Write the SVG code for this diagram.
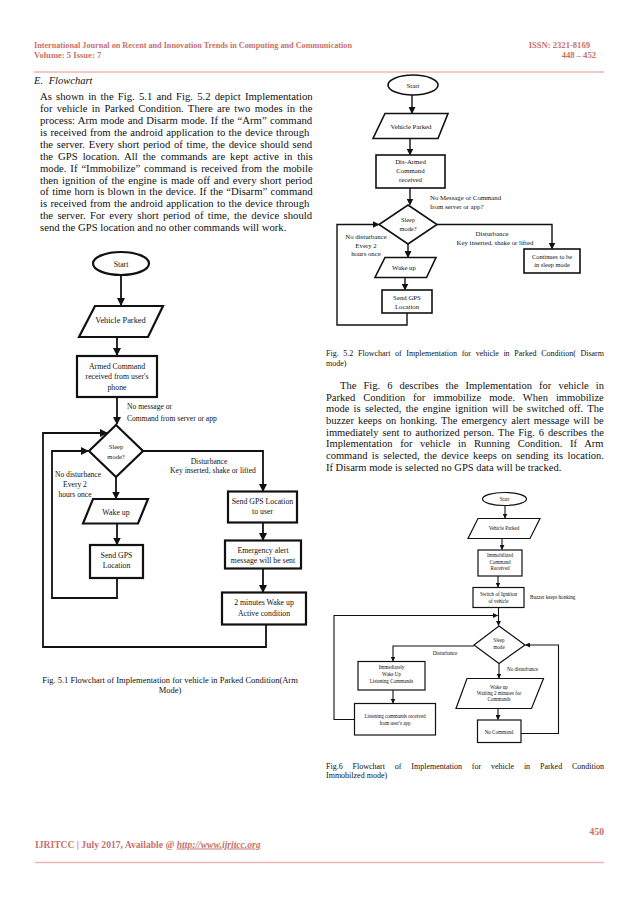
<svg xmlns="http://www.w3.org/2000/svg" width="638" height="902" viewBox="0 0 638 902">
<style>
text{font-family:"Liberation Serif","Times New Roman",serif;fill:#111}
.hd{font-weight:bold;font-size:8.6px;fill:#c8716c}
.ft{font-weight:bold;font-size:9.6px;fill:#c8716c}
.rule{stroke:#e9b7b3;stroke-width:1.4}
.para{font-size:10.7px}
.parar{font-size:10.5px}
.cap{font-size:8px}
.b1{fill:#fff;stroke:#111;stroke-width:2.2}
.b2{fill:#fff;stroke:#111;stroke-width:1.6}
.b3{fill:#fff;stroke:#111;stroke-width:1.2}
.c1{fill:none;stroke:#111;stroke-width:1.8}
.c2{fill:none;stroke:#111;stroke-width:1.4}
.c3{fill:none;stroke:#111;stroke-width:1.1}
.t1{font-size:7.8px;text-anchor:middle}
.t1s{font-size:6.5px;text-anchor:middle}
.l1{font-size:7.6px}
.t2{font-size:6.8px;text-anchor:middle}
.t3{font-size:5.1px;text-anchor:middle}
.l3{font-size:5.1px}
</style>
<defs>
<marker id="a1" markerUnits="userSpaceOnUse" markerWidth="8" markerHeight="8" refX="7" refY="4" orient="auto"><path d="M0,0 L8,4 L0,8 z" fill="#111"/></marker>
<marker id="a2" markerUnits="userSpaceOnUse" markerWidth="7" markerHeight="7" refX="6" refY="3.5" orient="auto"><path d="M0,0 L7,3.5 L0,7 z" fill="#111"/></marker>
<marker id="a3" markerUnits="userSpaceOnUse" markerWidth="5" markerHeight="5" refX="4.5" refY="2.5" orient="auto"><path d="M0,0 L5,2.5 L0,5 z" fill="#111"/></marker>
</defs>

<!-- page header -->
<g id="header">
<text class="hd" x="34" y="48" textLength="318" lengthAdjust="spacingAndGlyphs">International Journal on Recent and Innovation Trends in Computing and Communication</text>
<text class="hd" x="34" y="57.5">Volume: 5 Issue: 7</text>
<text class="hd" x="590" y="48" text-anchor="end">ISSN: 2321-8169</text>
<text class="hd" x="596" y="57.5" text-anchor="end">448 – 452</text>
<line class="rule" x1="34" y1="72" x2="604" y2="72"/>
</g>

<!-- left column text -->
<g id="left-text">
<text x="34" y="84" style="font-size:10.5px;font-style:italic;word-spacing:3px">E. Flowchart</text>
<text class="para" x="40" y="100.4" word-spacing="1.5">As shown in the Fig. 5.1 and Fig. 5.2 depict Implementation</text>
<text class="para" x="40" y="112.3" word-spacing="1.59">for vehicle in Parked Condition. There are two modes in the</text>
<text class="para" x="40" y="124.1" word-spacing="0.62">process: Arm mode and Disarm mode. If the “Arm” command</text>
<text class="para" x="40" y="136" word-spacing="0.61">is received from the android application to the device through</text>
<text class="para" x="40" y="147.9" word-spacing="1.03">the server. Every short period of time, the device should send</text>
<text class="para" x="40" y="159.8" word-spacing="2.31">the GPS location. All the commands are kept active in this</text>
<text class="para" x="40" y="171.6" word-spacing="1.25">mode.  If “Immobilize” command is received from the mobile</text>
<text class="para" x="40" y="183.5" word-spacing="0.96">then ignition of the engine is made off and every short period</text>
<text class="para" x="40" y="195.4" word-spacing="0.61">of time horn is blown in the device. If the “Disarm” command</text>
<text class="para" x="40" y="207.2" word-spacing="0.61">is received from the android application to the device through</text>
<text class="para" x="40" y="219.1" word-spacing="1.68">the server. For every short period of time, the device should</text>
<text class="para" x="40" y="231">send the GPS location and no other commands will work.</text>
</g>

<!-- ================= Fig 5.1 ================= -->
<g id="f51-connectors">
<line class="c1" x1="121" y1="275" x2="121" y2="305" marker-end="url(#a1)"/>
<line class="c1" x1="117" y1="337" x2="117" y2="355" marker-end="url(#a1)"/>
<line class="c1" x1="117" y1="397" x2="117" y2="424" marker-end="url(#a1)"/>
<polyline class="c1" points="266,624.5 266,647 43,647 43,433 107,433" marker-end="url(#a1)"/>
<polyline class="c1" points="117,578 117,598 52,598 52,451 88,451" marker-end="url(#a1)"/>
<polyline class="c1" points="143,451 263,451 263,491" marker-end="url(#a1)"/>
<line class="c1" x1="116" y1="477" x2="116" y2="498.5" marker-end="url(#a1)"/>
<line class="c1" x1="117" y1="523.5" x2="117" y2="544.5" marker-end="url(#a1)"/>
<line class="c1" x1="263" y1="522.5" x2="263" y2="540" marker-end="url(#a1)"/>
<line class="c1" x1="263" y1="568.5" x2="263" y2="592" marker-end="url(#a1)"/>
<text class="l1" x="127" y="408.5">No message or</text>
<text class="l1" x="127" y="420.5">Command from server or app</text>
<text class="l1" x="209" y="463.5" text-anchor="middle">Disturbance</text>
<text class="l1" x="213" y="473" text-anchor="middle">Key inserted, shake or lifted</text>
<text class="l1" x="78" y="477" text-anchor="middle">No disturbance</text>
<text class="l1" x="75" y="486.5" text-anchor="middle">Every 2</text>
<text class="l1" x="75" y="496.5" text-anchor="middle">hours once</text>
</g>
<g id="f51-start">
<ellipse class="b1" cx="121" cy="263.5" rx="28" ry="11.5"/>
<text class="t1" x="121" y="266.5">Start</text>
</g>
<g id="f51-parked">
<polygon class="b1" points="95,306 163,306 148,337 79,337"/>
<text class="t1" x="120.5" y="322.5" style="font-size:8.4px">Vehicle Parked</text>
</g>
<g id="f51-armed">
<rect class="b1" x="77" y="356" width="80" height="41"/>
<text class="t1" x="117" y="368.5">Armed Command</text>
<text class="t1" x="117" y="379">received from user's</text>
<text class="t1" x="117" y="389.5">phone</text>
</g>
<g id="f51-sleep">
<polygon class="b1" points="116,425 143,451 116,477 89,451"/>
<text class="t1s" x="116" y="449">Sleep</text>
<text class="t1s" x="116" y="459">mode?</text>
</g>
<g id="f51-wake">
<polygon class="b1" points="93,499 148,499 138,523.5 83,523.5"/>
<text class="t1" x="116" y="515">Wake up</text>
</g>
<g id="f51-gps">
<rect class="b1" x="90" y="545" width="53" height="33"/>
<text class="t1" x="116.5" y="557.5">Send GPS</text>
<text class="t1" x="116.5" y="567.5">Location</text>
</g>
<g id="f51-gpsuser">
<rect class="b1" x="228" y="491.5" width="69" height="31"/>
<text class="t1" x="262.5" y="504">Send GPS Location</text>
<text class="t1" x="262.5" y="514">to user</text>
</g>
<g id="f51-alert">
<rect class="b1" x="225" y="540.5" width="76" height="28"/>
<text class="t1" x="263" y="552.5">Emergency alert</text>
<text class="t1" x="263" y="563">message will be sent</text>
</g>
<g id="f51-active">
<rect class="b1" x="222" y="592.5" width="84" height="32"/>
<text class="t1" x="264" y="605">2 minutes  Wake up</text>
<text class="t1" x="264" y="615.5">Active condition</text>
</g>
<g id="f51-caption">
<text class="cap" x="170" y="683" text-anchor="middle" style="font-size:8.5px">Fig. 5.1 Flowchart of Implementation for vehicle in Parked Condition(Arm</text>
<text class="cap" x="170" y="693" text-anchor="middle" style="font-size:8.5px">Mode)</text>
</g>

<!-- ================= Fig 5.2 ================= -->
<g id="f52-connectors">
<line class="c2" x1="412" y1="95" x2="412" y2="113" marker-end="url(#a2)"/>
<line class="c2" x1="410" y1="138.5" x2="410" y2="154.5" marker-end="url(#a2)"/>
<line class="c2" x1="410" y1="188" x2="410" y2="204.5" marker-end="url(#a2)"/>
<polyline class="c2" points="407,313 407,325 337,325 337,224.5 378.5,224.5" marker-end="url(#a2)"/>
<polyline class="c2" points="437,224.5 552,224.5 552,248.5" marker-end="url(#a2)"/>
<line class="c2" x1="408" y1="244" x2="408" y2="257" marker-end="url(#a2)"/>
<line class="c2" x1="405" y1="277.5" x2="405" y2="289.5" marker-end="url(#a2)"/>
<text class="t2" x="430" y="199.5" style="text-anchor:start">No Message or Command</text>
<text class="t2" x="430" y="208.5" style="text-anchor:start">from server or app?</text>
<text class="t2" x="366" y="239">No disturbance</text>
<text class="t2" x="366" y="247.5">Every 2</text>
<text class="t2" x="366" y="256">hours once</text>
<text class="t2" x="492" y="235.5">Disturbance</text>
<text class="t2" x="495" y="244.5">Key inserted, shake or lifted</text>
</g>
<g id="f52-start">
<ellipse class="b2" cx="413" cy="85" rx="25" ry="10"/>
<text class="t2" x="413" y="87.5">Start</text>
</g>
<g id="f52-parked">
<polygon class="b2" points="385,113.5 448,113.5 438,138.5 373,138.5"/>
<text class="t2" x="411" y="128.5">Vehicle Parked</text>
</g>
<g id="f52-disarmed">
<rect class="b2" x="376" y="155" width="69" height="33"/>
<text class="t2" x="410.5" y="163.5">Dis-Armed</text>
<text class="t2" x="410.5" y="172.5">Command</text>
<text class="t2" x="410.5" y="181.5">received</text>
</g>
<g id="f52-sleep">
<polygon class="b2" points="408,205 437,224.5 408,244 379,224.5"/>
<text class="t2" x="408" y="222" style="font-size:6.4px">Sleep</text>
<text class="t2" x="408" y="231" style="font-size:6.4px">mode?</text>
</g>
<g id="f52-continues">
<rect class="b2" x="524" y="249" width="56" height="24"/>
<text class="t2" x="552" y="258.5" style="font-size:6.4px">Continues to be</text>
<text class="t2" x="552" y="266.5" style="font-size:6.4px">in sleep mode</text>
</g>
<g id="f52-wake">
<polygon class="b2" points="385,257.5 436,257.5 426.5,277.5 375,277.5"/>
<text class="t2" x="404" y="269.5">Wake up</text>
</g>
<g id="f52-gps">
<rect class="b2" x="382" y="290" width="50" height="23"/>
<text class="t2" x="407" y="299.5">Send GPS</text>
<text class="t2" x="407" y="308.5">Location</text>
</g>
<g id="f52-caption">
<text class="cap" x="326" y="356" word-spacing="2.65">Fig. 5.2 Flowchart of Implementation for vehicle in Parked Condition( Disarm</text>
<text class="cap" x="326" y="365.5">mode)</text>
</g>

<!-- right column text -->
<g id="right-text">
<text class="parar" x="340" y="389" word-spacing="4.46">The Fig. 6 describes the Implementation for vehicle in</text>
<text class="parar" x="326" y="400.7" word-spacing="5.35">Parked Condition for immobilize mode. When immobilize</text>
<text class="parar" x="326" y="412.3" word-spacing="1.67">mode is selected, the engine ignition will be switched off. The</text>
<text class="parar" x="326" y="424" word-spacing="1.34">buzzer keeps on honking. The emergency alert message will be</text>
<text class="parar" x="326" y="435.7" word-spacing="1.31">immediately sent to authorized person. The Fig. 6 describes the</text>
<text class="parar" x="326" y="447.3" word-spacing="5.05">Implementation for vehicle in Running Condition. If Arm</text>
<text class="parar" x="326" y="459" word-spacing="1.76">command  is selected, the device keeps on sending its location.</text>
<text class="parar" x="326" y="470.7">If Disarm mode is selected no GPS data will be tracked.</text>
</g>

<!-- ================= Fig 6 ================= -->
<g id="f6-connectors">
<line class="c3" x1="505" y1="505.5" x2="505" y2="518" marker-end="url(#a3)"/>
<line class="c3" x1="502" y1="538.5" x2="502" y2="549.5" marker-end="url(#a3)"/>
<line class="c3" x1="498" y1="576" x2="498" y2="587" marker-end="url(#a3)"/>
<line class="c3" x1="498.5" y1="607.5" x2="498.5" y2="625.5" marker-end="url(#a3)"/>
<polyline class="c3" points="354.5,719.5 334,719.5 334,615.5 497.5,615.5" marker-end="url(#a3)"/>
<polyline class="c3" points="474,646 393,646 393,661" marker-end="url(#a3)"/>
<line class="c3" x1="393" y1="690" x2="393" y2="703" marker-end="url(#a3)"/>
<line class="c3" x1="499" y1="663.5" x2="499" y2="678" marker-end="url(#a3)"/>
<line class="c3" x1="498" y1="708.5" x2="498" y2="719.5" marker-end="url(#a3)"/>
<polyline class="c3" points="521,733.5 558.5,733.5 558.5,645 525.5,645" marker-end="url(#a3)"/>
<text class="l3" x="530" y="598.5">Buzzer keeps honking</text>
<text class="t3" x="445" y="655">Disturbance</text>
<text class="l3" x="507" y="671">No disturbance</text>
</g>
<g id="f6-start">
<ellipse class="b3" cx="504.5" cy="499" rx="22" ry="6.5"/>
<text class="t3" x="504.5" y="501">Start</text>
</g>
<g id="f6-parked">
<polygon class="b3" points="478,518.5 540,518.5 530,538.5 468,538.5"/>
<text class="t3" x="504" y="530">Vehicle Parked</text>
</g>
<g id="f6-immobilized">
<rect class="b3" x="478" y="550" width="44" height="26"/>
<text class="t3" x="500" y="557">Immobilized</text>
<text class="t3" x="500" y="563.5">Command</text>
<text class="t3" x="500" y="570">Received</text>
</g>
<g id="f6-switch">
<rect class="b3" x="473" y="587.5" width="51" height="20"/>
<text class="t3" x="498.5" y="596">Switch of Ignition</text>
<text class="t3" x="498.5" y="603">of vehicle</text>
</g>
<g id="f6-sleep">
<polygon class="b3" points="499,626 525,645 499,663.5 474,645"/>
<text class="t3" x="499" y="642">Sleep</text>
<text class="t3" x="499" y="649">mode</text>
</g>
<g id="f6-immediately">
<rect class="b3" x="358" y="661.5" width="67" height="28.5"/>
<text class="t3" x="391.5" y="668.5">Immediately</text>
<text class="t3" x="391.5" y="675.5">Wake Up</text>
<text class="t3" x="391.5" y="682.5">Listening Commands</text>
</g>
<g id="f6-listening">
<rect class="b3" x="354.5" y="703.5" width="81" height="31.5"/>
<text class="t3" x="395" y="718">Listening  commands received</text>
<text class="t3" x="395" y="725">from user's app</text>
</g>
<g id="f6-wake">
<polygon class="b3" points="467,678.5 543.5,678.5 531.5,708.5 456,708.5"/>
<text class="t3" x="499" y="689">Wake up</text>
<text class="t3" x="499" y="695">Waiting 2 minutes for</text>
<text class="t3" x="499" y="701">Commands</text>
</g>
<g id="f6-nocommand">
<rect class="b3" x="477.5" y="720" width="43.5" height="22.5"/>
<text class="t3" x="499" y="734">No Command</text>
</g>
<g id="f6-caption">
<text class="cap" x="326" y="768.5" word-spacing="7.84">Fig.6 Flowchart of Implementation for vehicle in Parked Condition</text>
<text class="cap" x="326" y="778">Immobilzed mode)</text>
</g>

<!-- page footer -->
<g id="footer">
<text class="ft" x="604" y="835" text-anchor="end">450</text>
<text class="ft" x="35" y="847.5">IJRITCC | July 2017, Available @ <tspan style="font-style:italic;text-decoration:underline">http://www.ijritcc.org</tspan></text>
<line class="rule" x1="35" y1="862.5" x2="604" y2="862.5"/>
</g>
</svg>
